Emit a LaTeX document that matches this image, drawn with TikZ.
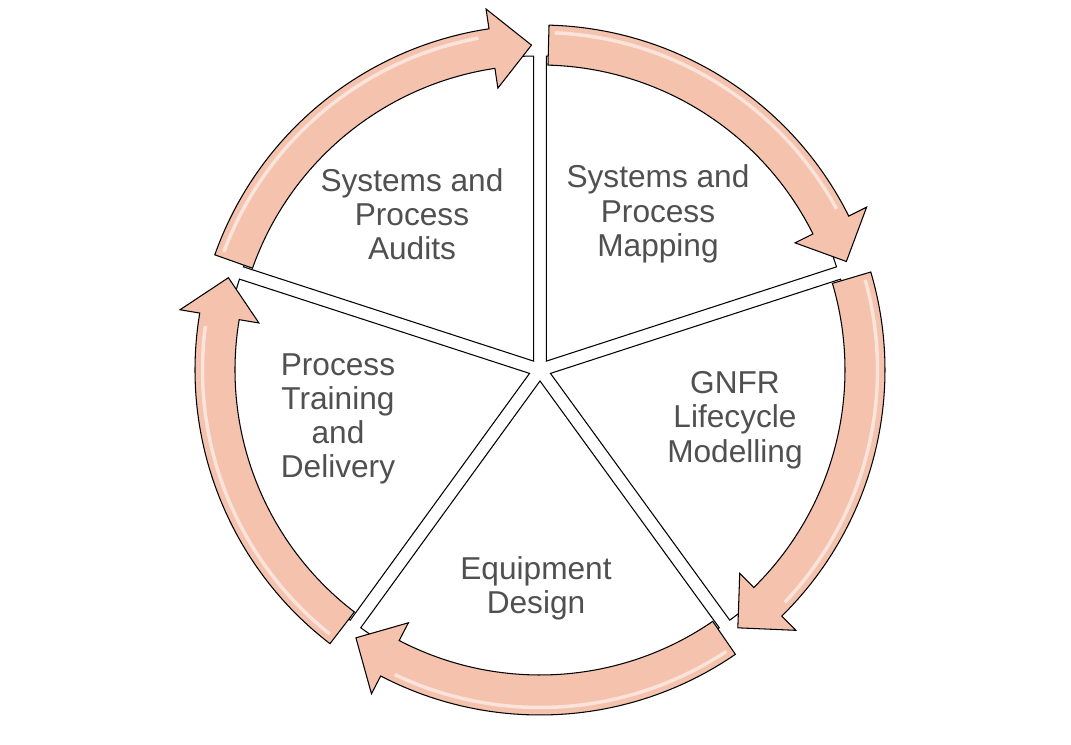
\documentclass[tikz,border=0pt]{standalone}
\usepackage{fontspec}
\setmainfont{Liberation Sans}
\definecolor{arrowfill}{HTML}{F4C2AD}
\definecolor{labelgrey}{HTML}{505050}
\tikzset{
  segment/.style={draw=black,line width=0.6pt,fill=white},
  cyclearrow/.style={draw=black,line width=0.6pt,fill=arrowfill},
  shine/.style={white,opacity=0.55,line width=2pt},
  label/.style={text=labelgrey,align=center,font=\fontsize{18}{19.5}\selectfont}
}
% clockwise arrow from angle #1 to angle #2
\newcommand\cyclearrow[2]{%
  \pgfmathsetmacro\h{#2+7}%
  \draw[cyclearrow] (#1:6.9) arc[start angle=#1,end angle=\h,radius=6.9]
    -- (\h:7.3) -- (#2:6.5) -- (\h:5.7) -- (\h:6.1)
    arc[start angle=\h,end angle=#1,radius=6.1] -- cycle;
  \draw[shine] (#1-1:6.75) arc[start angle=#1-1,end angle=\h+2,radius=6.75];
}
% pie segment between #1 and #1+72
\newcommand\piesegment[1]{%
  \pgfmathsetmacro\m{#1+36}%
  \draw[segment] (\m:0.22) -- ++(#1:6.1) arc[start angle=#1,end angle=#1+72,radius=6.1] -- cycle;
}
\begin{document}
\begin{tikzpicture}
\useasboundingbox (-10.8,7.4) rectangle (10.62,-7.5);

\foreach \b in {90,18,-54,-126,162}
  \piesegment{\b};

\foreach \b in {90,18,-54,-126,162}
  \cyclearrow{\b+70.5}{\b+1.5};

\node[label] (audits) at (-2.56,3.12) {Systems and\\Process\\Audits};
\node[label] (mapping) at (2.36,3.12) {Systems and\\Process\\Mapping};
\node[label] (gnfr) at (3.9,-1.0) {GNFR\\Lifecycle\\Modelling};
\node[label] (design) at (-0.08,-4.36) {Equipment\\Design};
\node[label] (training) at (-4.04,-0.98) {Process\\Training\\and\\Delivery};
\end{tikzpicture}
\end{document}
